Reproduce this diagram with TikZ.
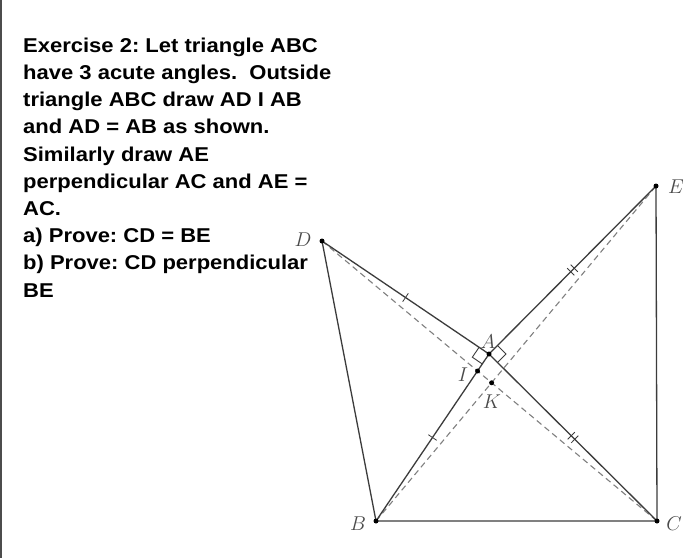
\documentclass[tikz,border=0pt]{standalone}
\usepackage{fontspec}
\usepackage{fix-cm}
\newfontfamily\txtfont{Liberation Sans}[FakeStretch=1.1]
\usetikzlibrary{calc}
\definecolor{lncol}{HTML}{3C3C3C}
\definecolor{dshcol}{HTML}{808080}
\definecolor{labcol}{HTML}{4A4A4A}
\tikzset{
  ln/.style={draw=lncol, line width=1.3pt},
  dsh/.style={draw=dshcol, line width=1.1pt, dash pattern=on 6pt off 4pt},
  tick/.style={draw=lncol, line width=0.8pt},
  rmark/.style={draw=lncol, line width=0.9pt},
  lab/.style={text=labcol, inner sep=0pt, font=\fontsize{20}{24}\selectfont},
  dot/.style={fill=black}
}
\begin{document}
\begin{tikzpicture}[x=1pt,y=-1pt]
\fill[white] (0,0) rectangle (688,558);
\useasboundingbox (0,0) rectangle (688,558);
\draw[draw=black!70, line width=2pt] (1,0) -- (1,558);

\node[anchor=north west, inner sep=0pt, align=left,
      font=\txtfont\bfseries\frenchspacing\fontsize{20}{27.2}\selectfont] (txt) at (23,37.5)
 {Exercise 2: Let triangle ABC\\
  have 3 acute angles.\ \ Outside\\
  triangle ABC draw AD I AB\\
  and AD = AB as shown.\\
  Similarly draw AE\\
  perpendicular AC and AE =\\
  AC.\\
  a) Prove: CD = BE\\
  b) Prove: CD perpendicular\\
  BE};

\coordinate (A) at (489,354);
\coordinate (B) at (376,521);
\coordinate (C) at (657,521);
\coordinate (D) at (322,241);
\coordinate (E) at (656,186);
\coordinate (I) at (intersection of D--C and A--B);
\coordinate (K) at (intersection of D--C and B--E);

% dashed lines
\draw[dsh] (D) -- (C);
\draw[dsh] (B) -- (E);

% solid lines
\draw[ln] (D) -- (A) -- (E) -- (C) -- (B) -- (D);
\draw[ln] (B) -- (A) -- (C);

% right angle marks
\coordinate (ad) at ($(A)!12pt!(D)$);
\coordinate (ab) at ($(A)!12pt!(B)$);
\coordinate (ae) at ($(A)!12pt!(E)$);
\coordinate (ac) at ($(A)!12pt!(C)$);
\draw[rmark] (ad) -- ($(ad)+(ab)-(A)$) -- (ab);
\draw[rmark] (ae) -- ($(ae)+(ac)-(A)$) -- (ac);

% tick marks
\coordinate (mAD) at ($(A)!0.5!(D)$);
\coordinate (mAB) at ($(A)!0.5!(B)$);
\draw[tick] ($(mAD)!5pt!90:(D)$) -- ($(mAD)!5pt!-90:(D)$);
\draw[tick] ($(mAB)!5pt!90:(B)$) -- ($(mAB)!5pt!-90:(B)$);
\coordinate (mAE) at ($(A)!0.5!(E)$);
\coordinate (mAC) at ($(A)!0.5!(C)$);
\coordinate (mAE1) at ($(mAE)!2.5pt!(E)$);
\coordinate (mAE2) at ($(mAE)!-2.5pt!(E)$);
\coordinate (mAC1) at ($(mAC)!2.5pt!(C)$);
\coordinate (mAC2) at ($(mAC)!-2.5pt!(C)$);
\draw[tick] ($(mAE1)!5pt!90:(E)$) -- ($(mAE1)!5pt!-90:(E)$);
\draw[tick] ($(mAE2)!5pt!90:(A)$) -- ($(mAE2)!5pt!-90:(A)$);
\draw[tick] ($(mAC1)!5pt!90:(C)$) -- ($(mAC1)!5pt!-90:(C)$);
\draw[tick] ($(mAC2)!5pt!90:(A)$) -- ($(mAC2)!5pt!-90:(A)$);

% dots
\foreach \p in {A,B,C,D,E,I,K} { \fill[dot] (\p) circle (2.5pt); }

% labels
\node[lab] (lD) at (303,240) {$D$};
\node[lab] (lE) at (676,187) {$E$};
\node[lab] (lB) at (358,524) {$B$};
\node[lab] (lC) at (674,524) {$C$};
\node[lab] (lA) at (488,342) {$A$};
\node[lab] (lI) at (463,375) {$I$};
\node[lab] (lK) at (492,402) {$K$};
\end{tikzpicture}
\end{document}
